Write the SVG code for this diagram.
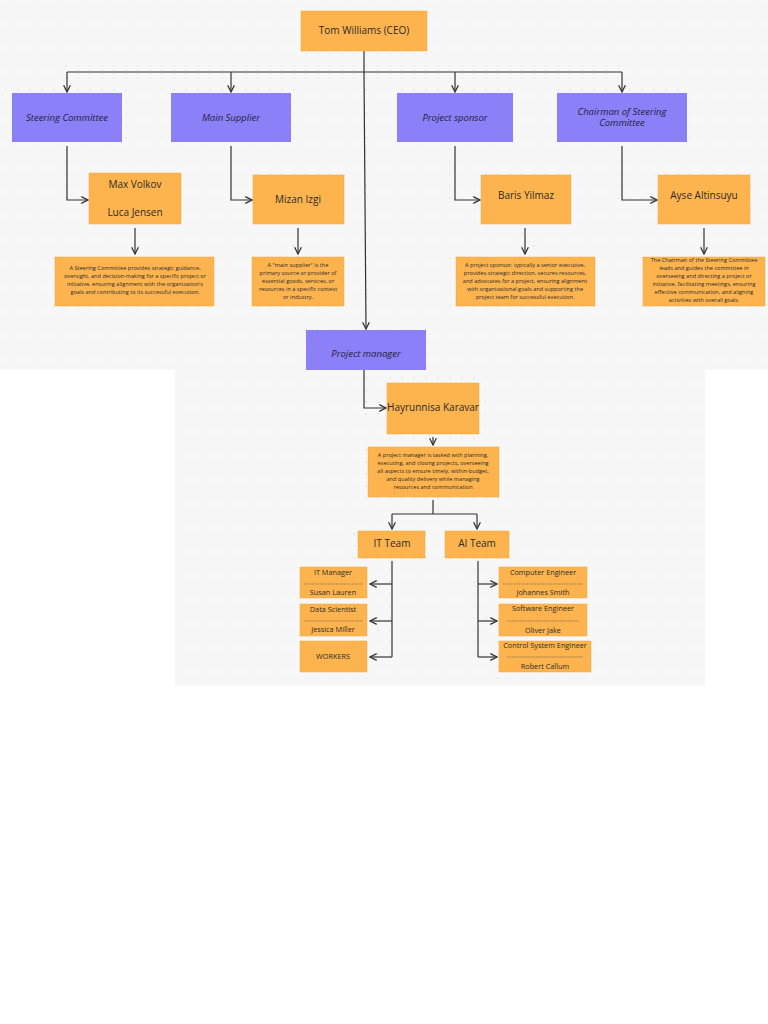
<svg xmlns="http://www.w3.org/2000/svg" width="768" height="1024" viewBox="0 0 768 1024">
<defs>
<pattern id="dots" width="12" height="12" patternUnits="userSpaceOnUse"><circle cx="6" cy="6" r="0.7" fill="#d4d4d4"/></pattern>
<marker id="ah" viewBox="0 0 10 10" refX="9" refY="5" markerWidth="7" markerHeight="7" orient="auto-start-reverse"><path d="M1,1 L9,5 L1,9" fill="none" stroke="#333" stroke-width="1.5"/></marker>
<style>
.o{fill:#FDB44E;stroke:#f3a63e;stroke-width:0.5}
.p{fill:#8C80F8}
.t{font-family:"Open Sans","Liberation Sans",sans-serif;fill:#2b2b2b;text-anchor:middle}
.n{font-size:10px}
.pt{font-size:9.5px;font-style:italic;fill:#1f1f3a}
.d{font-size:5.6px}
.s{font-size:7.3px}
.c path,.c line{fill:none;stroke:#333;stroke-width:1.2;marker-end:url(#ah)}
.sep{stroke:#555;stroke-width:0.6;stroke-dasharray:1 0.6}
</style>
</defs>
<rect width="768" height="1024" fill="#fff"/>
<rect x="0" y="0" width="768" height="370" fill="#f7f7f7"/>
<rect x="175" y="370" width="530" height="315" fill="#f7f7f7"/>
<rect x="0" y="0" width="768" height="370" fill="url(#dots)"/>
<rect x="175" y="370" width="530" height="315" fill="url(#dots)"/>

<g class="c">
<path d="M364,51 V72 M67,72 H622" style="marker-end:none"/>
<line x1="67" y1="72" x2="67" y2="92"/>
<line x1="231" y1="72" x2="231" y2="92"/>
<line x1="455" y1="72" x2="455" y2="92"/>
<line x1="622" y1="72" x2="622" y2="92"/>
<path d="M364,72 L366,329"/>
<path d="M67,146 V200 H88"/>
<path d="M231,146 V200 H252"/>
<path d="M455,146 V200 H480"/>
<path d="M622,146 V200 H657"/>
<line x1="135" y1="228" x2="135" y2="254"/>
<line x1="298" y1="228" x2="298" y2="254"/>
<line x1="525" y1="228" x2="525" y2="254"/>
<line x1="704" y1="228" x2="704" y2="254"/>
<path d="M364,370 V408 H386"/>
<line x1="433" y1="437" x2="433" y2="445"/>
<path d="M433,500 V514 M392,514 H477" style="marker-end:none"/>
<line x1="392" y1="514" x2="392" y2="529"/>
<line x1="477" y1="514" x2="477" y2="529"/>
<path d="M392,561 V657" style="marker-end:none"/>
<line x1="392" y1="584" x2="370" y2="584"/>
<line x1="392" y1="621" x2="370" y2="621"/>
<line x1="392" y1="657" x2="370" y2="657"/>
<path d="M478,561 V657" style="marker-end:none"/>
<line x1="478" y1="584" x2="497" y2="584"/>
<line x1="478" y1="621" x2="497" y2="621"/>
<line x1="478" y1="657" x2="497" y2="657"/>
</g>

<g id="ceo"><rect class="o" x="301" y="11" width="126" height="40"/><text class="t n" x="364" y="34" font-size="9.5">Tom Williams (CEO)</text></g>

<g id="steering"><rect class="p" x="12" y="93" width="110" height="49"/><text class="t pt" x="67" y="121">Steering Committee</text></g>
<g id="supplier"><rect class="p" x="171" y="93" width="120" height="49"/><text class="t pt" x="231" y="121">Main Supplier</text></g>
<g id="sponsor"><rect class="p" x="397" y="93" width="116" height="49"/><text class="t pt" x="455" y="121">Project sponsor</text></g>
<g id="chairman"><rect class="p" x="557" y="93" width="130" height="49"/><text class="t pt" x="622" y="115">Chairman of Steering</text><text class="t pt" x="622" y="126">Committee</text></g>

<g id="max"><rect class="o" x="89" y="173" width="92" height="51"/><text class="t n" x="135" y="188">Max Volkov</text><text class="t n" x="135" y="216">Luca Jensen</text></g>
<g id="mizan"><rect class="o" x="253" y="175" width="91" height="49"/><text class="t n" x="298" y="203">Mizan Izgi</text></g>
<g id="baris"><rect class="o" x="481" y="175" width="90" height="49"/><text class="t n" x="526" y="199">Baris Yilmaz</text></g>
<g id="ayse"><rect class="o" x="658" y="175" width="92" height="49"/><text class="t n" x="704" y="199">Ayse Altinsuyu</text></g>

<g id="d1"><rect class="o" x="55" y="257" width="159" height="49"/>
<text class="t d" x="135" y="270">A Steering Committee provides strategic guidance,</text>
<text class="t d" x="135" y="278">oversight, and decision-making for a specific project or</text>
<text class="t d" x="135" y="286">initiative, ensuring alignment with the organization's</text>
<text class="t d" x="135" y="294">goals and contributing to its successful execution.</text></g>
<g id="d2"><rect class="o" x="252" y="257" width="92" height="49"/>
<text class="t d" x="298" y="267">A "main supplier" is the</text>
<text class="t d" x="298" y="275">primary source or provider of</text>
<text class="t d" x="298" y="283">essential goods, services, or</text>
<text class="t d" x="298" y="291">resources in a specific context</text>
<text class="t d" x="298" y="299">or industry.</text></g>
<g id="d3"><rect class="o" x="456" y="257" width="139" height="49"/>
<text class="t d" x="525" y="267">A project sponsor, typically a senior executive,</text>
<text class="t d" x="525" y="275">provides strategic direction, secures resources,</text>
<text class="t d" x="525" y="283">and advocates for a project, ensuring alignment</text>
<text class="t d" x="525" y="291">with organizational goals and supporting the</text>
<text class="t d" x="525" y="299">project team for successful execution.</text></g>
<g id="d4"><rect class="o" x="643" y="257" width="122" height="49"/>
<text class="t d" x="704" y="262">The Chairman of the Steering Committee</text>
<text class="t d" x="704" y="270">leads and guides the committee in</text>
<text class="t d" x="704" y="278">overseeing and directing a project or</text>
<text class="t d" x="704" y="286">initiative, facilitating meetings, ensuring</text>
<text class="t d" x="704" y="294">effective communication, and aligning</text>
<text class="t d" x="704" y="302">activities with overall goals.</text></g>

<g id="pm"><rect class="p" x="306" y="330" width="120" height="40"/><text class="t pt" x="366" y="357">Project manager</text></g>
<g id="hay"><rect class="o" x="387" y="383" width="92" height="51"/><text class="t n" x="433" y="411" font-size="9.5">Hayrunnisa Karavar</text></g>
<g id="d5"><rect class="o" x="368" y="447" width="131" height="50"/>
<text class="t d" x="433" y="457">A project manager is tasked with planning,</text>
<text class="t d" x="433" y="465">executing, and closing projects, overseeing</text>
<text class="t d" x="433" y="473">all aspects to ensure timely, within-budget,</text>
<text class="t d" x="433" y="481">and quality delivery while managing</text>
<text class="t d" x="433" y="489">resources and communication</text></g>

<g id="it"><rect class="o" x="358" y="531" width="67" height="27"/><text class="t n" x="392" y="547">IT Team</text></g>
<g id="ai"><rect class="o" x="445" y="531" width="64" height="27"/><text class="t n" x="477" y="547">AI Team</text></g>

<g id="itm"><rect class="o" x="300" y="567" width="67" height="31"/><text class="t s" x="333" y="575">IT Manager</text><line class="sep" x1="304" y1="584" x2="363" y2="584"/><text class="t s" x="333" y="595">Susan Lauren</text></g>
<g id="ds"><rect class="o" x="300" y="604" width="67" height="32"/><text class="t s" x="333" y="612">Data Scientist</text><line class="sep" x1="304" y1="621" x2="363" y2="621"/><text class="t s" x="333" y="632">Jessica Miller</text></g>
<g id="wk"><rect class="o" x="300" y="641" width="67" height="31"/><text class="t s" x="333" y="659">WORKERS</text></g>
<g id="ce"><rect class="o" x="499" y="567" width="88" height="31"/><text class="t s" x="543" y="575">Computer Engineer</text><line class="sep" x1="503" y1="584" x2="583" y2="584"/><text class="t s" x="543" y="595">Johannes Smith</text></g>
<g id="se"><rect class="o" x="499" y="604" width="88" height="32"/><text class="t s" x="543" y="611">Software Engineer</text><line class="sep" x1="507" y1="621" x2="579" y2="621"/><text class="t s" x="543" y="633">Oliver Jake</text></g>
<g id="cse"><rect class="o" x="499" y="641" width="92" height="31"/><text class="t s" x="545" y="648">Control System Engineer</text><line class="sep" x1="507" y1="657" x2="583" y2="657"/><text class="t s" x="545" y="669">Robert Callum</text></g>
</svg>
